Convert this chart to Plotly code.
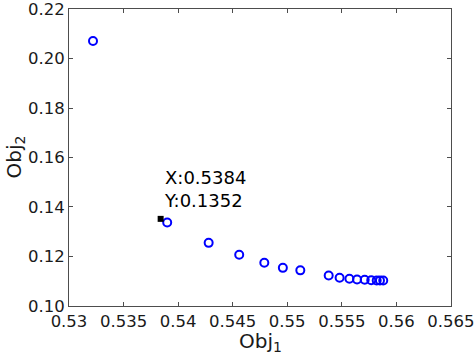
import plotly.graph_objects as go

obj1 = [0.5322, 0.5390, 0.5428, 0.5456, 0.5479, 0.5496, 0.5512,
        0.5538, 0.5548, 0.5557, 0.5564, 0.5571, 0.5577, 0.5582, 0.5585, 0.5588]
obj2 = [0.2071, 0.1337, 0.1255, 0.1207, 0.1175, 0.1154, 0.1144,
        0.1123, 0.1114, 0.1110, 0.1107, 0.1106, 0.1104, 0.1103, 0.1103, 0.1103]
tip_x = [0.5384]
tip_y = [0.1352]

xticks = [0.53, 0.535, 0.54, 0.545, 0.55, 0.555, 0.56, 0.565]
xlabels = ["0.53", "0.535", "0.54", "0.545", "0.55", "0.555", "0.56", "0.565"]
yticks = [0.10, 0.12, 0.14, 0.16, 0.18, 0.20, 0.22]
ylabels = ["0.10", "0.12", "0.14", "0.16", "0.18", "0.20", "0.22"]

FONT = "DejaVu Sans"
fig = go.Figure()
fig.add_trace(go.Scatter(
    x=obj1, y=obj2, mode="markers",
    marker=dict(symbol="circle-open", size=8, color="#0000FF", line=dict(width=2, color="#0000FF")),
    showlegend=False, hoverinfo="skip"))
fig.add_trace(go.Scatter(
    x=tip_x, y=tip_y, mode="markers",
    marker=dict(symbol="square", size=6, color="black"),
    showlegend=False, hoverinfo="skip"))

fig.add_annotation(
    x=tip_x[0], y=tip_y[0], xref="x", yref="y",
    text="X:%.4f<br>Y:%.4f" % (tip_x[0], tip_y[0]),
    showarrow=False, xanchor="left", yanchor="bottom", align="left",
    xshift=1, yshift=6,
    font=dict(family=FONT, size=18, color="black"))

# axis titles
fig.add_annotation(x=0.5, y=0, xref="paper", yref="paper", text="Obj<sub>1</sub>",
                   showarrow=False, xanchor="center", yanchor="middle", yshift=-36,
                   font=dict(family=FONT, size=20, color="#1a1a1a"))
fig.add_annotation(x=0, y=0.5, xref="paper", yref="paper", text="Obj<sub>2</sub>",
                   showarrow=False, xanchor="center", yanchor="middle", xshift=-55,
                   textangle=-90, font=dict(family=FONT, size=20, color="#1a1a1a"))

axis_common = dict(
    showline=True, linecolor="#4d4d4d", linewidth=1, mirror="ticks",
    ticks="inside", ticklen=4, tickcolor="#4d4d4d", showgrid=False, zeroline=False,
    automargin=False, ticklabeloverflow="allow",
    tickfont=dict(family=FONT, size=16.5, color="#1a1a1a"),
)
fig.update_xaxes(range=[0.53, 0.56501], tickvals=xticks, ticktext=xlabels, **axis_common)
fig.update_yaxes(range=[0.09999, 0.22001], tickvals=yticks, ticktext=ylabels, **axis_common)

fig.update_layout(
    width=474, height=355,
    margin=dict(l=69, r=23, t=9, b=49),
    paper_bgcolor="white", plot_bgcolor="white",
)
fig.write_html("out.html", config={"displayModeBar": False},
               post_script="document.body.style.margin='0';document.body.style.overflow='hidden';")
